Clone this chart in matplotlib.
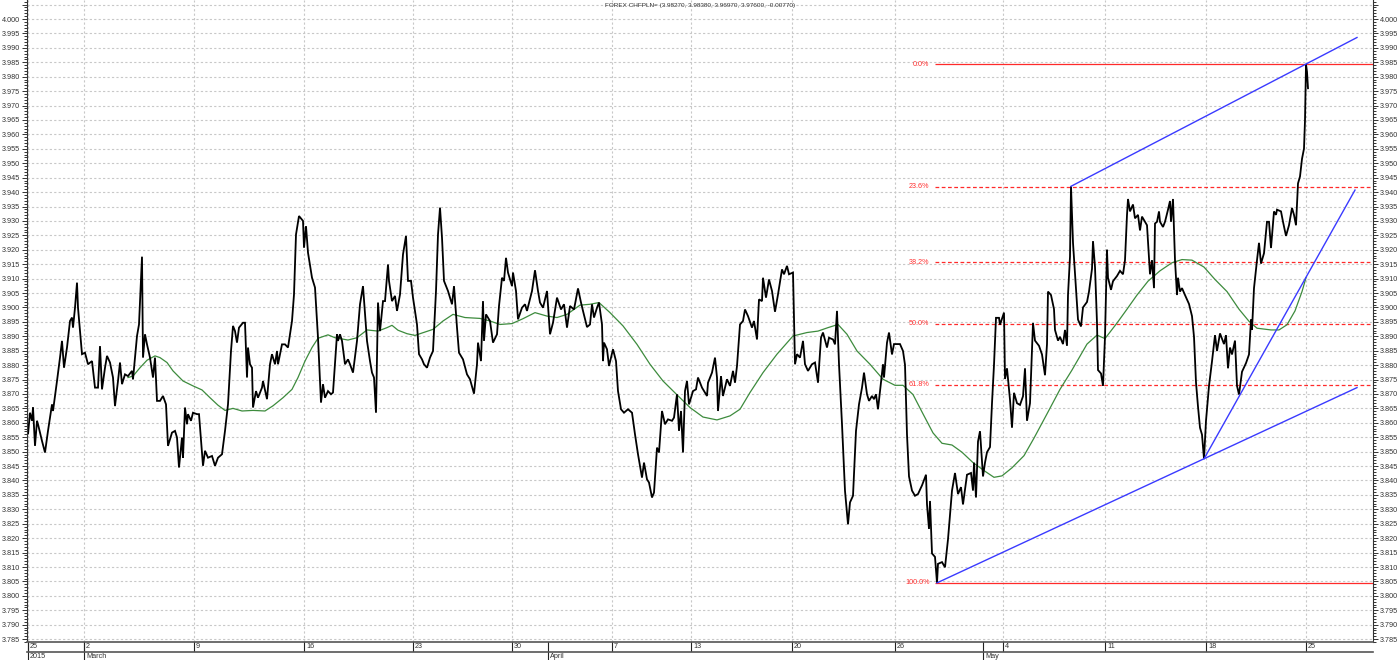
import matplotlib
matplotlib.use("Agg")
import matplotlib.pyplot as plt
import matplotlib.transforms as mtransforms
from matplotlib.ticker import MultipleLocator, FuncFormatter

# hourly bars, x = bar number from the first bar (25 Feb 2015)
prices_feb_mar = [
    (0, 3.8595), (1, 3.8560), (3, 3.8635), (5, 3.8607), (6, 3.8653), (8, 3.8520),
    (10, 3.8607), (11, 3.8595), (15, 3.8537), (18, 3.8497), (21, 3.8572), (25, 3.8664),
    (26, 3.8641), (30, 3.8745), (33, 3.8826), (35, 3.8884), (37, 3.8791), (40, 3.8861),
    (43, 3.8953), (45, 3.8965), (46, 3.8930), (48, 3.8999), (50, 3.9086), (51, 3.8999),
    (53, 3.8918), (55, 3.8838), (58, 3.8843), (61, 3.8803), (65, 3.8814), (68, 3.8722),
    (71, 3.8722), (73, 3.8866), (75, 3.8716), (78, 3.8791), (80, 3.8832), (83, 3.8809),
    (86, 3.8757), (88, 3.8658), (91, 3.8745), (93, 3.8809), (95, 3.8734), (98, 3.8768),
    (101, 3.8762), (105, 3.8780), (106, 3.8751), (110, 3.8901), (112, 3.8941), (115, 3.9176),
    (116, 3.8826), (118, 3.8907), (120, 3.8872), (123, 3.8826), (126, 3.8757), (128, 3.8826),
    (130, 3.8676), (133, 3.8676), (136, 3.8693), (139, 3.8664), (141, 3.8520), (145, 3.8566),
    (148, 3.8572), (150, 3.8549), (152, 3.8445), (155, 3.8549), (156, 3.8479), (158, 3.8653),
    (160, 3.8595), (161, 3.8630), (164, 3.8607), (166, 3.8635), (170, 3.8630), (172, 3.8630),
    (176, 3.8451), (178, 3.8503), (181, 3.8479), (185, 3.8485), (188, 3.8451), (191, 3.8479),
    (195, 3.8491), (198, 3.8572), (201, 3.8664), (204, 3.8849), (206, 3.8936), (208, 3.8918),
    (210, 3.8878), (212, 3.8930), (216, 3.8947), (218, 3.8947), (220, 3.8757), (221, 3.8861),
    (223, 3.8803), (225, 3.8791), (226, 3.8653), (229, 3.8710), (231, 3.8687), (235, 3.8722),
    (236, 3.8745), (240, 3.8682), (243, 3.8803), (245, 3.8838), (248, 3.8803), (250, 3.8849),
    (251, 3.8803), (255, 3.8872), (258, 3.8872), (261, 3.8861), (265, 3.8953), (267, 3.9045),
    (269, 3.9253), (272, 3.9317), (276, 3.9300), (277, 3.9207), (279, 3.9282), (281, 3.9190),
    (285, 3.9103), (288, 3.9069), (291, 3.8895), (294, 3.8670), (296, 3.8734), (298, 3.8687),
    (301, 3.8710), (304, 3.8699), (306, 3.8705), (310, 3.8907), (311, 3.8884), (313, 3.8907),
    (315, 3.8884), (318, 3.8803), (321, 3.8820), (323, 3.8803), (326, 3.8774), (330, 3.8884),
    (333, 3.9011), (336, 3.9074), (340, 3.8884), (343, 3.8814), (345, 3.8774), (347, 3.8757),
    (349, 3.8635), (351, 3.9017), (353, 3.8918), (356, 3.9022), (358, 3.9022), (361, 3.9149),
    (362, 3.9092), (365, 3.9022), (368, 3.9040), (370, 3.8988), (373, 3.9045), (376, 3.9184),
    (379, 3.9248), (381, 3.9092), (384, 3.9092), (386, 3.9034), (390, 3.8941), (392, 3.8838),
    (395, 3.8820), (397, 3.8803), (400, 3.8791), (403, 3.8826), (406, 3.8849), (409, 3.9057),
    (411, 3.9253), (413, 3.9346), (415, 3.9242), (417, 3.9092), (421, 3.9057), (425, 3.9011),
    (427, 3.9074), (430, 3.8930), (432, 3.8843),
]
prices_apr = [
    (436, 3.8820), (440, 3.8768), (443, 3.8751), (447, 3.8701), (450, 3.8803), (451, 3.8878),
    (454, 3.8814), (456, 3.9022), (457, 3.8884), (459, 3.8976), (463, 3.8953), (466, 3.8878),
    (470, 3.8907), (472, 3.9005), (475, 3.9103), (477, 3.9092), (479, 3.9172), (481, 3.9121),
    (485, 3.9074), (486, 3.9121), (489, 3.9057), (491, 3.8959), (495, 3.8999), (498, 3.9011),
    (500, 3.8988), (505, 3.9057), (508, 3.9129), (511, 3.9057), (513, 3.9017), (516, 3.8999),
    (520, 3.9057), (523, 3.8907), (526, 3.8947), (530, 3.9034), (534, 3.8993), (537, 3.9011),
    (540, 3.8930), (543, 3.9005), (547, 3.8993), (551, 3.9066), (554, 3.9017), (556, 3.8988),
    (560, 3.8932), (563, 3.8941), (565, 3.9011), (567, 3.8965), (570, 3.8999), (572, 3.9017),
    (575, 3.8941), (576, 3.8814), (577, 3.8878), (580, 3.8855), (582, 3.8797), (586, 3.8855),
    (589, 3.8814), (591, 3.8710), (594, 3.8647), (597, 3.8635), (601, 3.8647), (605, 3.8635),
    (608, 3.8560), (611, 3.8491), (615, 3.8410), (617, 3.8462), (620, 3.8404), (622, 3.8393),
    (625, 3.8341), (627, 3.8358), (630, 3.8514), (632, 3.8497), (635, 3.8641), (638, 3.8595),
    (641, 3.8612), (645, 3.8607), (647, 3.8618), (650, 3.8699), (652, 3.8572), (654, 3.8641),
    (656, 3.8497), (658, 3.8710), (660, 3.8745), (662, 3.8664), (666, 3.8710), (669, 3.8716),
    (671, 3.8757), (675, 3.8722), (680, 3.8693), (681, 3.8739), (685, 3.8774), (688, 3.8826),
    (690, 3.8757), (691, 3.8641), (694, 3.8762), (696, 3.8693), (700, 3.8751), (703, 3.8728),
    (706, 3.8780), (708, 3.8739), (710, 3.8797), (713, 3.8941), (716, 3.8953), (718, 3.8993),
    (721, 3.8970), (725, 3.8930), (727, 3.8953), (730, 3.8889), (732, 3.9028), (735, 3.9022),
    (736, 3.9103), (739, 3.9034), (742, 3.9097), (745, 3.9057), (748, 3.8985), (751, 3.9045),
    (755, 3.9132), (757, 3.9115), (760, 3.9144), (762, 3.9115), (766, 3.9121), (768, 3.8803),
    (770, 3.8838), (773, 3.8826), (776, 3.8884), (778, 3.8803), (781, 3.8780), (785, 3.8803),
    (788, 3.8809), (791, 3.8739), (794, 3.8895), (796, 3.8913), (800, 3.8861), (802, 3.8895),
    (806, 3.8889), (808, 3.8872), (810, 3.8988), (812, 3.8803), (815, 3.8595), (818, 3.8364),
    (821, 3.8248), (823, 3.8324), (826, 3.8347), (829, 3.8572), (832, 3.8664), (835, 3.8722),
    (837, 3.8774), (840, 3.8699), (842, 3.8676), (845, 3.8693), (847, 3.8682), (849, 3.8699),
    (851, 3.8647), (854, 3.8739), (856, 3.8803), (857, 3.8757), (860, 3.8878), (862, 3.8913),
]
prices_may = [
    (865, 3.8837), (867, 3.8873), (873, 3.8873), (876, 3.8849), (878, 3.8801), (880, 3.8559),
    (882, 3.8414), (885, 3.8365), (888, 3.8347), (891, 3.8353), (895, 3.8383), (899, 3.8420),
    (900, 3.8317), (902, 3.8232), (903, 3.8329), (905, 3.8147), (908, 3.8135), (910, 3.8045),
    (911, 3.8111), (915, 3.8117), (918, 3.8099), (921, 3.8196), (925, 3.8365), (928, 3.8426),
    (931, 3.8353), (934, 3.8377), (936, 3.8317), (940, 3.8420), (944, 3.8426), (946, 3.8365),
    (947, 3.8462), (949, 3.8341), (951, 3.8535), (953, 3.8571), (956, 3.8414), (958, 3.8462),
    (960, 3.8498), (963, 3.8516), (965, 3.8668), (967, 3.8801), (969, 3.8964), (972, 3.8964),
    (973, 3.8940), (977, 3.8982), (978, 3.8752), (980, 3.8789), (983, 3.8680), (985, 3.8583),
    (987, 3.8704), (990, 3.8668), (993, 3.8662), (996, 3.8692), (998, 3.8789), (1000, 3.8607),
    (1003, 3.8668), (1006, 3.8946), (1008, 3.8885), (1012, 3.8867), (1015, 3.8837), (1018, 3.8765),
    (1020, 3.8873), (1021, 3.9055), (1024, 3.9043), (1027, 3.8994), (1028, 3.8922), (1031, 3.8885),
    (1033, 3.8898), (1036, 3.8873), (1038, 3.8922), (1040, 3.8867), (1041, 3.9043), (1043, 3.9176),
    (1044, 3.9420), (1046, 3.9224), (1049, 3.9067), (1051, 3.8958), (1054, 3.8934), (1056, 3.9000),
    (1060, 3.9019), (1062, 3.9055), (1065, 3.9134), (1066, 3.9230), (1068, 3.9140), (1070, 3.8946),
    (1071, 3.8783), (1074, 3.8771), (1076, 3.8728), (1078, 3.8898), (1080, 3.9200), (1081, 3.9103),
    (1084, 3.9061), (1086, 3.9091), (1090, 3.9109), (1093, 3.9127), (1096, 3.9115), (1098, 3.9164),
    (1100, 3.9321), (1101, 3.9376), (1103, 3.9333), (1106, 3.9357), (1108, 3.9309), (1111, 3.9321),
    (1113, 3.9267), (1115, 3.9315), (1118, 3.9297), (1120, 3.9285), (1123, 3.9115), (1125, 3.9164),
    (1127, 3.9067), (1128, 3.9291), (1130, 3.9297), (1132, 3.9333), (1133, 3.9297), (1136, 3.9279),
    (1138, 3.9297), (1141, 3.9339), (1143, 3.9369), (1144, 3.9297), (1146, 3.9376), (1148, 3.9164),
    (1150, 3.9043), (1151, 3.9103), (1153, 3.9055), (1155, 3.9067), (1158, 3.9043), (1162, 3.9012),
    (1165, 3.8970), (1167, 3.8898), (1169, 3.8740), (1171, 3.8656), (1173, 3.8583), (1175, 3.8559),
    (1177, 3.8475), (1179, 3.8607), (1182, 3.8728), (1185, 3.8813), (1188, 3.8904), (1190, 3.8849),
    (1193, 3.8910), (1197, 3.8873), (1199, 3.8904), (1201, 3.8789), (1203, 3.8861), (1205, 3.8837),
    (1208, 3.8885), (1210, 3.8728), (1212, 3.8698), (1215, 3.8777), (1219, 3.8807), (1222, 3.8837),
    (1224, 3.8958), (1225, 3.8922), (1227, 3.9067), (1230, 3.9164), (1232, 3.9224), (1234, 3.9152),
    (1237, 3.9188), (1240, 3.9297), (1242, 3.9297), (1244, 3.9206), (1247, 3.9333), (1249, 3.9321),
    (1250, 3.9339), (1254, 3.9333), (1256, 3.9297), (1259, 3.9248), (1262, 3.9285), (1265, 3.9345),
    (1267, 3.9321), (1269, 3.9285), (1271, 3.9430), (1273, 3.9454), (1275, 3.9515), (1277, 3.9551),
    (1278, 3.9648), (1279, 3.9843), (1280, 3.9817), (1281, 3.9760),
]

# moving average (green)
ma_pts = [
    (101, 3.8757), (106, 3.8762), (113, 3.8791), (120, 3.8817), (128, 3.8832), (133, 3.8826),
    (140, 3.8809), (146, 3.8780), (156, 3.8745), (166, 3.8728), (175, 3.8714), (183, 3.8687),
    (191, 3.8661), (198, 3.8643), (206, 3.8650), (215, 3.8641), (226, 3.8643), (238, 3.8641),
    (246, 3.8659), (256, 3.8687), (265, 3.8716), (271, 3.8757), (278, 3.8814), (285, 3.8861),
    (291, 3.8893), (301, 3.8905), (308, 3.8895), (321, 3.8887), (330, 3.8895), (340, 3.8922),
    (351, 3.8918), (360, 3.8930), (365, 3.8938), (371, 3.8921), (380, 3.8909), (388, 3.8903),
    (393, 3.8909), (406, 3.8924), (416, 3.8953), (426, 3.8976), (438, 3.8965), (453, 3.8962),
    (463, 3.8953), (473, 3.8941), (485, 3.8944), (496, 3.8961), (508, 3.8982), (520, 3.8970),
    (530, 3.8965), (540, 3.8976), (553, 3.9008), (563, 3.9011), (572, 3.9017), (583, 3.8982),
    (596, 3.8936), (610, 3.8872), (623, 3.8803), (636, 3.8745), (650, 3.8697), (663, 3.8653),
    (676, 3.8620), (690, 3.8610), (703, 3.8624), (713, 3.8647), (723, 3.8705), (736, 3.8774),
    (750, 3.8838), (766, 3.8901), (780, 3.8913), (791, 3.8918), (801, 3.8930), (811, 3.8941),
    (820, 3.8907), (830, 3.8849), (843, 3.8803), (856, 3.8751), (868, 3.8730), (876, 3.8730),
    (886, 3.8698), (896, 3.8631), (906, 3.8565), (915, 3.8529), (925, 3.8523), (935, 3.8498),
    (946, 3.8462), (958, 3.8432), (967, 3.8411), (975, 3.8416), (985, 3.8444), (997, 3.8486),
    (1007, 3.8547), (1020, 3.8631), (1033, 3.8716), (1045, 3.8783), (1060, 3.8873), (1070, 3.8904),
    (1078, 3.8892), (1090, 3.8946), (1100, 3.8994), (1110, 3.9043), (1121, 3.9091), (1133, 3.9127),
    (1145, 3.9155), (1155, 3.9166), (1165, 3.9164), (1177, 3.9140), (1188, 3.9097), (1200, 3.9055),
    (1212, 3.8994), (1222, 3.8952), (1230, 3.8928), (1244, 3.8922), (1252, 3.8922), (1260, 3.8940),
    (1268, 3.8988), (1275, 3.9055), (1279, 3.9103),
]

# trend lines (bar, price) start / end
trend_upper = [(1044, 3.9420), (1330, 3.9936)]
trend_lower = [(910, 3.8045), (1330, 3.8722)]
trend_steep = [(1177, 3.8475), (1328, 3.9407)]

# fibonacci retracement
fib_high = 3.9843
fib_low = 3.8045
fib_start = 908
fib_ratios = [0.0, 0.236, 0.382, 0.5, 0.618, 1.0]
fib_labels = ["0.0%", "23.6%", "38.2%", "50.0%", "61.8%", "100.0%"]

# x axis labels
day_ticks = [1, 57, 167, 277, 386, 485, 585, 664, 765, 868, 976, 1078, 1179, 1279]
day_labels = ["25", "2", "9", "16", "23", "30", "7", "13", "20", "26", "4", "11", "18", "25"]
month_ticks = [1, 57, 521, 956]
month_labels = ["2015", "March", "April", "May"]

title = "FOREX CHFPLN= (3.98270, 3.98380, 3.96970, 3.97600, -0.00770)"

W, H = 1400, 660
fig = plt.figure(figsize=(W / 100, H / 100), dpi=100)
plt.rcParams['font.family'] = ['Liberation Sans', 'DejaVu Sans']

L, R = 27 / W, 1373 / W
ax = fig.add_axes([L, 1 - 642 / H, R - L, 642 / H])
ax.set_xlim(0, 1346)
ax.set_ylim(3.7840, 4.0066)

grid_kw = dict(color='#c8c8c8', lw=0.8, linestyle=(0, (2, 2)))
ax.yaxis.set_major_locator(MultipleLocator(0.005))
ax.yaxis.set_minor_locator(MultipleLocator(0.001))
# the label at the very top edge is not shown on the reference
ax.yaxis.set_major_formatter(FuncFormatter(lambda v, p: '' if v > 4.0001 else '%.3f' % v))
ax.tick_params(axis='y', which='both', left=True, right=True, labelleft=True,
               labelright=True, labelsize=5.2, labelcolor='#333333', color='#333333',
               width=0.7, pad=1.5)
ax.tick_params(axis='y', which='major', length=3.5)
ax.tick_params(axis='y', which='minor', length=2)
ax.set_xticks(day_ticks)
ax.tick_params(axis='x', length=0, labelbottom=False)
ax.grid(True, axis='both', which='major', **grid_kw)
ax.set_axisbelow(True)
for side in ['top', 'bottom']:
    ax.spines[side].set_visible(False)
for side in ['left', 'right']:
    ax.spines[side].set_color('#333333')
    ax.spines[side].set_linewidth(0.8)

# fibonacci levels
rng = fib_high - fib_low
for ratio, lab in zip(fib_ratios, fib_labels):
    level = fib_high - ratio * rng
    if ratio in (0.0, 1.0):
        ax.hlines(level, fib_start, 1346, color='#ff2a2a', lw=0.9)
    else:
        ax.hlines(level, fib_start, 1346, color='#ff2a2a', lw=0.9, linestyles=(0, (3, 2)))
    ax.annotate(lab, (fib_start, level), xytext=(-4, 0), textcoords='offset points',
                ha='right', va='center', fontsize=5.2, color='#ff3030')

# moving average and price
mx, my = zip(*ma_pts)
ax.plot(mx, my, color='#3d8b3d', lw=0.9)
px, py = zip(*(prices_feb_mar + prices_apr + prices_may))
ax.plot(px, py, color='black', lw=1.3, solid_joinstyle='miter')

for line in [trend_upper, trend_lower, trend_steep]:
    tx, ty = zip(*line)
    ax.plot(tx, ty, color='#3a3aff', lw=1.0)

# bottom date band
axb = fig.add_axes([L, 1 - 652 / H, R - L, 10 / H])
axb.set_xlim(ax.get_xlim())
axb.set_ylim(0, 1)
axb.set_xticks([])
axb.set_yticks([])
for side in ['left', 'right']:
    axb.spines[side].set_visible(False)
for side in ['top', 'bottom']:
    axb.spines[side].set_color('#555555')
    axb.spines[side].set_linewidth(1.2)
for pos, lab in zip(day_ticks, day_labels):
    axb.axvline(pos, color='#222222', lw=0.8)
    axb.annotate(lab, (pos, 0.5), xytext=(1.5, 0), textcoords='offset points',
                 ha='left', va='center', fontsize=5.2, color='#333333')
trans = mtransforms.blended_transform_factory(axb.transData, axb.transAxes)
for pos, lab in zip(month_ticks, month_labels):
    axb.plot([pos, pos], [1, -0.9], color='#222222', lw=0.8, transform=trans, clip_on=False)
    axb.annotate(lab, (pos, -0.45), xycoords=trans, xytext=(1.5, 0),
                 textcoords='offset points', ha='left', va='center', fontsize=5.2,
                 color='#333333')

fig.text(0.5, 1 - 5 / H, title, ha='center', va='center', fontsize=4.6, color='#333333')

fig.savefig('out.png', dpi=100)
